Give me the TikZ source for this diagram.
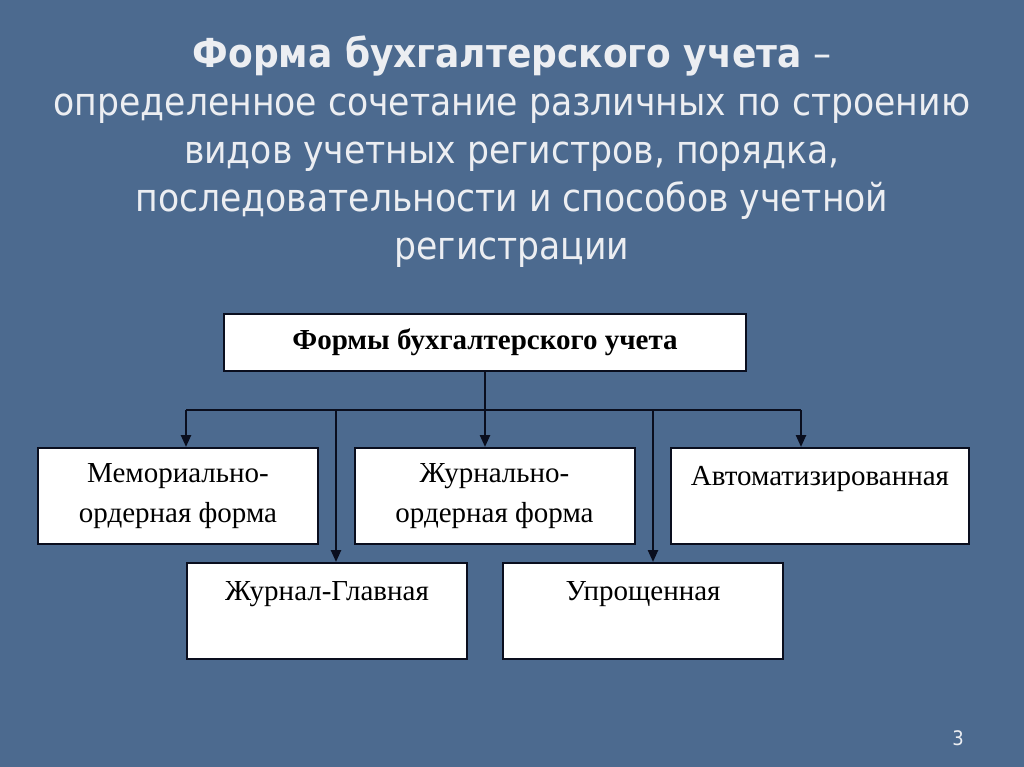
\documentclass[tikz,border=0pt]{standalone}
\usepackage{fontspec}
\setmainfont{Liberation Serif}
\newfontfamily\titlefont{DejaVu Sans Condensed}
\usetikzlibrary{positioning, arrows.meta}
\definecolor{slidebg}{RGB}{76,106,143}
\definecolor{titlegray}{RGB}{236,238,242}
\definecolor{linedark}{RGB}{10,14,30}

\begin{document}
\begin{tikzpicture}[x=1pt,y=-1pt,>={Triangle[length=12pt,width=10pt]},
  f/.style={draw=linedark,line width=2pt,fill=white,align=center,inner sep=0pt,minimum height=96pt,font=\fontsize{29}{40}\selectfont},
  ln/.style={draw=linedark,line width=2.4pt}]
  \fill[slidebg] (0,0) rectangle (1024,767);
  % title
  \node[text=titlegray,align=center,font=\titlefont\fontsize{38.5}{48}\selectfont] (title) at (512,152)
    {{\fontsize{40}{48}\selectfont\textbf{Форма бухгалтерского учета} –}\\
     определенное сочетание различных по строению\\
     видов учетных регистров, порядка,\\
     последовательности и способов учетной\\
     регистрации};
  % boxes
  \node[f,minimum width=522pt,minimum height=57pt,font=\bfseries\fontsize{29}{32}\selectfont] (top) at (485,342.5){Формы бухгалтерского учета};
  \node[f,minimum width=280pt] (mo) at (178,496){Мемориально-\\ордерная форма};
  \node[f,minimum width=280pt] (zo) at (494.5,496){Журнально-\\ордерная форма};
  \node[f,minimum width=298pt] (av) at (820,496){Автоматизированная\\ \mbox{}};
  \node[f,minimum width=280pt] (zg) at (327,611){Журнал-Главная\\ \mbox{}};
  \node[f,minimum width=280pt] (up) at (643,611){Упрощенная\\ \mbox{}};
  % connectors
  \coordinate (jl) at (186,410);
  \coordinate (jr) at (801,410);
  \coordinate (jz) at (336,410);
  \coordinate (ju) at (653,410);
  \draw[ln] (jl) -- (jr);
  \draw[ln] (top.south) -- (top.south |- jl);
  \draw[ln,->] (jl) -- (jl |- mo.north);
  \draw[ln,->] (top.south |- jl) -- (top.south |- zo.north);
  \draw[ln,->] (jr) -- (jr |- av.north);
  \draw[ln,->] (jz) -- (jz |- zg.north);
  \draw[ln,->] (ju) -- (ju |- up.north);
  \node[text=titlegray,font=\titlefont\fontsize{20}{20}\selectfont] (pg) at (958,738){3};
\end{tikzpicture}
\end{document}
